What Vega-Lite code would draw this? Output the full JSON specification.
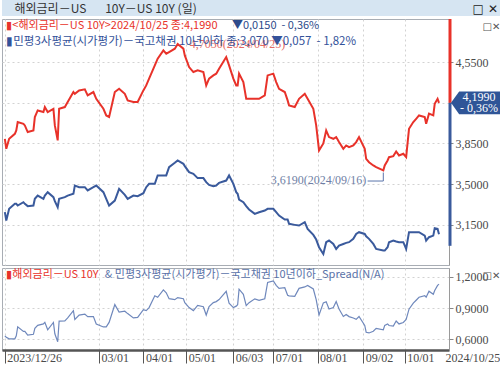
{
  "$schema": "https://vega.github.io/schema/vega-lite/v6.json",
  "padding": 0,
  "spacing": 1,
  "background": "white",
  "config": {
    "locale": {"number": {"decimal": ",", "thousands": ".", "grouping": [3], "currency": ["", ""]}},
    "view": {"stroke": "#a8adb4", "strokeWidth": 1},
    "axis": {"labelFont": "Liberation Sans Narrow", "labelFontSize": 12, "labelColor": "#4a4a4a", "gridColor": "#d2d2d2", "gridDash": [2, 3], "title": null}
  },
  "datasets": {
    "rates": [
      {"d": "2023-12-26", "us": 3.890, "ktb": 3.259, "sp": 0.631},
      {"d": "2023-12-27", "us": 3.804, "ktb": 3.187, "sp": 0.617},
      {"d": "2023-12-29", "us": 3.890, "ktb": 3.288, "sp": 0.602},
      {"d": "2024-01-02", "us": 3.933, "ktb": 3.331, "sp": 0.602},
      {"d": "2024-01-03", "us": 3.962, "ktb": 3.331, "sp": 0.631},
      {"d": "2024-01-04", "us": 4.034, "ktb": 3.316, "sp": 0.718},
      {"d": "2024-01-08", "us": 4.019, "ktb": 3.345, "sp": 0.674},
      {"d": "2024-01-09", "us": 4.005, "ktb": 3.331, "sp": 0.674},
      {"d": "2024-01-11", "us": 3.948, "ktb": 3.311, "sp": 0.637},
      {"d": "2024-01-15", "us": 3.962, "ktb": 3.316, "sp": 0.646},
      {"d": "2024-01-16", "us": 4.077, "ktb": 3.374, "sp": 0.703},
      {"d": "2024-01-18", "us": 4.134, "ktb": 3.402, "sp": 0.732},
      {"d": "2024-01-22", "us": 4.120, "ktb": 3.374, "sp": 0.746},
      {"d": "2024-01-23", "us": 4.163, "ktb": 3.402, "sp": 0.761},
      {"d": "2024-01-25", "us": 4.120, "ktb": 3.431, "sp": 0.689},
      {"d": "2024-01-29", "us": 4.148, "ktb": 3.388, "sp": 0.760},
      {"d": "2024-01-30", "us": 4.005, "ktb": 3.354, "sp": 0.651},
      {"d": "2024-02-01", "us": 3.876, "ktb": 3.302, "sp": 0.574},
      {"d": "2024-02-02", "us": 4.148, "ktb": 3.374, "sp": 0.774},
      {"d": "2024-02-06", "us": 4.163, "ktb": 3.388, "sp": 0.775},
      {"d": "2024-02-08", "us": 4.206, "ktb": 3.402, "sp": 0.804},
      {"d": "2024-02-12", "us": 4.292, "ktb": 3.417, "sp": 0.875},
      {"d": "2024-02-13", "us": 4.277, "ktb": 3.488, "sp": 0.789},
      {"d": "2024-02-16", "us": 4.306, "ktb": 3.474, "sp": 0.832},
      {"d": "2024-02-20", "us": 4.315, "ktb": 3.474, "sp": 0.841},
      {"d": "2024-02-22", "us": 4.263, "ktb": 3.446, "sp": 0.817},
      {"d": "2024-02-26", "us": 4.292, "ktb": 3.474, "sp": 0.818},
      {"d": "2024-02-28", "us": 4.234, "ktb": 3.488, "sp": 0.746},
      {"d": "2024-03-04", "us": 4.148, "ktb": 3.431, "sp": 0.717},
      {"d": "2024-03-06", "us": 4.091, "ktb": 3.374, "sp": 0.717},
      {"d": "2024-03-08", "us": 4.077, "ktb": 3.316, "sp": 0.761},
      {"d": "2024-03-12", "us": 4.292, "ktb": 3.359, "sp": 0.933},
      {"d": "2024-03-15", "us": 4.320, "ktb": 3.460, "sp": 0.860},
      {"d": "2024-03-19", "us": 4.277, "ktb": 3.408, "sp": 0.869},
      {"d": "2024-03-21", "us": 4.220, "ktb": 3.374, "sp": 0.846},
      {"d": "2024-03-25", "us": 4.206, "ktb": 3.402, "sp": 0.804},
      {"d": "2024-03-28", "us": 4.206, "ktb": 3.397, "sp": 0.809},
      {"d": "2024-04-01", "us": 4.306, "ktb": 3.422, "sp": 0.884},
      {"d": "2024-04-03", "us": 4.349, "ktb": 3.474, "sp": 0.875},
      {"d": "2024-04-05", "us": 4.407, "ktb": 3.503, "sp": 0.904},
      {"d": "2024-04-09", "us": 4.521, "ktb": 3.503, "sp": 1.018},
      {"d": "2024-04-11", "us": 4.579, "ktb": 3.575, "sp": 1.004},
      {"d": "2024-04-15", "us": 4.650, "ktb": 3.575, "sp": 1.075},
      {"d": "2024-04-17", "us": 4.622, "ktb": 3.575, "sp": 1.047},
      {"d": "2024-04-19", "us": 4.636, "ktb": 3.646, "sp": 0.990},
      {"d": "2024-04-23", "us": 4.665, "ktb": 3.684, "sp": 0.981},
      {"d": "2024-04-25", "us": 4.705, "ktb": 3.704, "sp": 1.001},
      {"d": "2024-04-29", "us": 4.665, "ktb": 3.675, "sp": 0.990},
      {"d": "2024-04-30", "us": 4.607, "ktb": 3.655, "sp": 0.952},
      {"d": "2024-05-03", "us": 4.507, "ktb": 3.603, "sp": 0.904},
      {"d": "2024-05-06", "us": 4.464, "ktb": 3.589, "sp": 0.875},
      {"d": "2024-05-09", "us": 4.478, "ktb": 3.552, "sp": 0.926},
      {"d": "2024-05-13", "us": 4.464, "ktb": 3.552, "sp": 0.912},
      {"d": "2024-05-15", "us": 4.349, "ktb": 3.517, "sp": 0.832},
      {"d": "2024-05-17", "us": 4.407, "ktb": 3.494, "sp": 0.913},
      {"d": "2024-05-20", "us": 4.435, "ktb": 3.483, "sp": 0.952},
      {"d": "2024-05-22", "us": 4.450, "ktb": 3.488, "sp": 0.962},
      {"d": "2024-05-24", "us": 4.493, "ktb": 3.511, "sp": 0.982},
      {"d": "2024-05-29", "us": 4.593, "ktb": 3.531, "sp": 1.062},
      {"d": "2024-05-31", "us": 4.521, "ktb": 3.575, "sp": 0.946},
      {"d": "2024-06-03", "us": 4.407, "ktb": 3.503, "sp": 0.904},
      {"d": "2024-06-05", "us": 4.349, "ktb": 3.431, "sp": 0.918},
      {"d": "2024-06-06", "us": 4.349, "ktb": 3.417, "sp": 0.932},
      {"d": "2024-06-07", "us": 4.450, "ktb": 3.368, "sp": 1.082},
      {"d": "2024-06-10", "us": 4.378, "ktb": 3.345, "sp": 1.033},
      {"d": "2024-06-12", "us": 4.234, "ktb": 3.311, "sp": 0.923},
      {"d": "2024-06-14", "us": 4.234, "ktb": 3.282, "sp": 0.952},
      {"d": "2024-06-18", "us": 4.234, "ktb": 3.245, "sp": 0.989},
      {"d": "2024-06-21", "us": 4.234, "ktb": 3.259, "sp": 0.975},
      {"d": "2024-06-25", "us": 4.263, "ktb": 3.273, "sp": 0.990},
      {"d": "2024-06-27", "us": 4.435, "ktb": 3.288, "sp": 1.147},
      {"d": "2024-07-01", "us": 4.450, "ktb": 3.288, "sp": 1.162},
      {"d": "2024-07-03", "us": 4.378, "ktb": 3.259, "sp": 1.119},
      {"d": "2024-07-05", "us": 4.320, "ktb": 3.230, "sp": 1.090},
      {"d": "2024-07-09", "us": 4.292, "ktb": 3.196, "sp": 1.096},
      {"d": "2024-07-11", "us": 4.220, "ktb": 3.196, "sp": 1.024},
      {"d": "2024-07-12", "us": 4.177, "ktb": 3.159, "sp": 1.018},
      {"d": "2024-07-16", "us": 4.163, "ktb": 3.150, "sp": 1.013},
      {"d": "2024-07-19", "us": 4.234, "ktb": 3.144, "sp": 1.090},
      {"d": "2024-07-23", "us": 4.277, "ktb": 3.173, "sp": 1.104},
      {"d": "2024-07-25", "us": 4.234, "ktb": 3.116, "sp": 1.118},
      {"d": "2024-07-29", "us": 4.148, "ktb": 3.064, "sp": 1.084},
      {"d": "2024-07-31", "us": 4.005, "ktb": 3.024, "sp": 0.981},
      {"d": "2024-08-02", "us": 3.790, "ktb": 2.958, "sp": 0.832},
      {"d": "2024-08-05", "us": 3.850, "ktb": 2.900, "sp": 0.950},
      {"d": "2024-08-07", "us": 3.962, "ktb": 3.001, "sp": 0.961},
      {"d": "2024-08-09", "us": 3.905, "ktb": 3.015, "sp": 0.890},
      {"d": "2024-08-12", "us": 3.890, "ktb": 2.986, "sp": 0.904},
      {"d": "2024-08-14", "us": 3.905, "ktb": 2.943, "sp": 0.962},
      {"d": "2024-08-16", "us": 3.862, "ktb": 2.972, "sp": 0.890},
      {"d": "2024-08-19", "us": 3.804, "ktb": 2.986, "sp": 0.818},
      {"d": "2024-08-21", "us": 3.833, "ktb": 2.995, "sp": 0.838},
      {"d": "2024-08-23", "us": 3.818, "ktb": 3.001, "sp": 0.817},
      {"d": "2024-08-26", "us": 3.833, "ktb": 3.030, "sp": 0.803},
      {"d": "2024-08-28", "us": 3.862, "ktb": 3.072, "sp": 0.790},
      {"d": "2024-08-30", "us": 3.905, "ktb": 3.087, "sp": 0.818},
      {"d": "2024-09-03", "us": 3.804, "ktb": 3.072, "sp": 0.732},
      {"d": "2024-09-04", "us": 3.718, "ktb": 3.052, "sp": 0.666},
      {"d": "2024-09-06", "us": 3.689, "ktb": 3.030, "sp": 0.659},
      {"d": "2024-09-09", "us": 3.661, "ktb": 2.986, "sp": 0.675},
      {"d": "2024-09-11", "us": 3.646, "ktb": 2.943, "sp": 0.703},
      {"d": "2024-09-16", "us": 3.619, "ktb": 2.929, "sp": 0.690},
      {"d": "2024-09-17", "us": 3.661, "ktb": 2.929, "sp": 0.732},
      {"d": "2024-09-19", "us": 3.704, "ktb": 2.958, "sp": 0.746},
      {"d": "2024-09-20", "us": 3.732, "ktb": 3.001, "sp": 0.731},
      {"d": "2024-09-23", "us": 3.741, "ktb": 3.015, "sp": 0.726},
      {"d": "2024-09-25", "us": 3.781, "ktb": 3.007, "sp": 0.774},
      {"d": "2024-09-27", "us": 3.747, "ktb": 3.001, "sp": 0.746},
      {"d": "2024-09-30", "us": 3.761, "ktb": 3.001, "sp": 0.760},
      {"d": "2024-10-02", "us": 3.732, "ktb": 2.943, "sp": 0.789},
      {"d": "2024-10-04", "us": 3.976, "ktb": 3.087, "sp": 0.889},
      {"d": "2024-10-07", "us": 4.034, "ktb": 3.087, "sp": 0.947},
      {"d": "2024-10-09", "us": 4.062, "ktb": 3.087, "sp": 0.975},
      {"d": "2024-10-11", "us": 4.091, "ktb": 3.087, "sp": 1.004},
      {"d": "2024-10-15", "us": 4.077, "ktb": 3.058, "sp": 1.019},
      {"d": "2024-10-16", "us": 4.019, "ktb": 3.015, "sp": 1.004},
      {"d": "2024-10-18", "us": 4.106, "ktb": 3.044, "sp": 1.062},
      {"d": "2024-10-21", "us": 4.091, "ktb": 3.058, "sp": 1.033},
      {"d": "2024-10-22", "us": 4.191, "ktb": 3.121, "sp": 1.070},
      {"d": "2024-10-24", "us": 4.234, "ktb": 3.115, "sp": 1.119},
      {"d": "2024-10-25", "us": 4.199, "ktb": 3.070, "sp": 1.129}
    ]
  },
  "vconcat": [
    {
      "width": 500,
      "height": 16,
      "view": {"stroke": null},
      "data": {"values": [{"k": 1}]},
      "mark": {"type": "rect", "color": "#d6e5f2"},
      "encoding": {
        "x": {"datum": 0, "type": "quantitative", "scale": {"domain": [0, 1], "nice": false},
          "axis": {"orient": "bottom", "zindex": 2, "labels": false, "ticks": false, "domain": false, "grid": false,
            "title": "□ ✕", "titleX": 470, "titleY": -8, "titleAlign": "left", "titleBaseline": "middle", "titleAngle": 0,
            "titleFont": "DejaVu Sans", "titleFontSize": 12, "titleFontWeight": "bold", "titleColor": "#222222"}},
        "x2": {"datum": 1},
        "y": {"datum": 0, "type": "quantitative", "scale": {"domain": [0, 1], "nice": false},
          "axis": {"orient": "left", "zindex": 2, "labels": false, "ticks": false, "domain": false, "grid": false,
            "title": "해외금리－US\u00a0\u00a0\u00a0\u00a0\u00a0\u00a0\u00a010Y－US 10Y (일)",
            "titleX": 12, "titleY": 8, "titleAlign": "left", "titleBaseline": "middle", "titleAngle": 0,
            "titleFont": "Liberation Sans Narrow, Noto Sans CJK KR", "titleFontSize": 12, "titleFontWeight": "normal", "titleColor": "#333333"}},
        "y2": {"datum": 1}
      }
    },
    {
      "width": 447,
      "height": 246,
      "layer": [
        {
          "data": {"name": "rates"},
          "mark": {"type": "line", "color": "#e8322a", "strokeWidth": 2},
          "encoding": {
            "x": {"field": "d", "type": "temporal",
              "scale": {"type": "utc", "domain": [{"year": 2023, "month": 12, "date": 24, "utc": true}, {"year": 2024, "month": 11, "date": 1, "utc": true}]},
              "axis": {"title": null, "labels": false, "ticks": false, "domain": false, "grid": true,
                "values": [{"year": 2023, "month": 12, "date": 26, "utc": true}, {"year": 2024, "month": 3, "date": 1, "utc": true}, {"year": 2024, "month": 4, "date": 1, "utc": true}, {"year": 2024, "month": 5, "date": 1, "utc": true}, {"year": 2024, "month": 6, "date": 3, "utc": true}, {"year": 2024, "month": 7, "date": 1, "utc": true}, {"year": 2024, "month": 8, "date": 1, "utc": true}, {"year": 2024, "month": 9, "date": 2, "utc": true}, {"year": 2024, "month": 10, "date": 1, "utc": true}]}},
            "y": {"field": "us", "type": "quantitative",
              "scale": {"domain": [2.805, 4.92], "nice": false, "zero": false},
              "axis": {"orient": "right", "values": [3.15, 3.5, 3.85, 4.2, 4.55], "format": ".4f",
                "labelExpr": "datum.value == 4.2 ? '' : datum.label",
                "grid": true, "domainColor": "#9a9a9a", "tickColor": "#888888", "tickSize": 4, "labelPadding": 2,
                "title": "□✕", "titleX": 33, "titleY": 7, "titleAngle": 0, "titleAlign": "left", "titleBaseline": "middle",
                "titleFont": "DejaVu Sans", "titleFontSize": 10, "titleFontWeight": "normal", "titleColor": "#555555"}}
          }
        },
        {
          "data": {"name": "rates"},
          "mark": {"type": "line", "color": "#3a5a9c", "strokeWidth": 2},
          "encoding": {
            "x": {"field": "d", "type": "temporal"},
            "y": {"field": "ktb", "type": "quantitative"}
          }
        },
        {
          "data": {"values": [{"d": "2024-04-25", "v": 4.705, "t": "4,7050(2024/04/25)"}]},
          "mark": {"type": "text", "align": "left", "baseline": "middle", "dx": 12, "color": "#e56a62", "fontSize": 12, "font": "Liberation Sans Narrow"},
          "encoding": {
            "x": {"field": "d", "type": "temporal"},
            "y": {"field": "v", "type": "quantitative"},
            "text": {"field": "t"}
          }
        },
        {
          "data": {"values": [{"d": "2024-09-16", "v": 3.619, "t": "3,6190(2024/09/16)"}]},
          "mark": {"type": "text", "align": "right", "baseline": "middle", "dx": -17, "dy": 10, "color": "#6f7fa6", "fontSize": 12, "font": "Liberation Sans Narrow"},
          "encoding": {
            "x": {"field": "d", "type": "temporal"},
            "y": {"field": "v", "type": "quantitative"},
            "text": {"field": "t"}
          }
        },
        {
          "data": {"values": [{}]},
          "mark": {"type": "rule", "color": "#5a74aa", "strokeWidth": 1},
          "encoding": {
            "x": {"datum": {"year": 2024, "month": 9, "date": 5, "utc": true}, "type": "temporal"},
            "x2": {"datum": {"year": 2024, "month": 9, "date": 16, "utc": true}},
            "y": {"datum": 3.527, "type": "quantitative"}
          }
        },
        {
          "data": {"values": [{}]},
          "mark": {"type": "rule", "color": "#5a74aa", "strokeWidth": 1},
          "encoding": {
            "x": {"datum": {"year": 2024, "month": 9, "date": 16, "utc": true}, "type": "temporal"},
            "y": {"datum": 3.527, "type": "quantitative"},
            "y2": {"datum": 3.6}
          }
        },
        {
          "data": {"values": [{}]},
          "mark": {"type": "text", "align": "left", "baseline": "middle", "color": "#e8322a", "fontSize": 11, "font": "Liberation Sans Narrow, Noto Sans CJK KR"},
          "encoding": {
            "x": {"datum": {"year": 2023, "month": 12, "date": 27, "utc": true}, "type": "temporal"},
            "y": {"datum": 4.86, "type": "quantitative"},
            "text": {"value": "▮<해외금리－US 10Y>2024/10/25 종:4,1990"}
          }
        },
        {
          "data": {"values": [{}]},
          "mark": {"type": "text", "align": "left", "baseline": "middle", "color": "#2e4a8a", "fontSize": 11, "font": "Liberation Sans Narrow, Noto Sans CJK KR"},
          "encoding": {
            "x": {"datum": {"year": 2024, "month": 6, "date": 2, "utc": true}, "type": "temporal"},
            "y": {"datum": 4.86, "type": "quantitative"},
            "text": {"value": "▼0,0150\u00a0\u00a0- 0,36%"}
          }
        },
        {
          "data": {"values": [{}]},
          "mark": {"type": "text", "align": "left", "baseline": "middle", "color": "#34529a", "fontSize": 11.5, "font": "Liberation Sans Narrow, Noto Sans CJK KR"},
          "encoding": {
            "x": {"datum": {"year": 2023, "month": 12, "date": 27, "utc": true}, "type": "temporal"},
            "y": {"datum": 4.722, "type": "quantitative"},
            "text": {"value": "▮민평3사평균(시가평가)－국고채권 10년이하 종:3,070 ▼0,057\u00a0\u00a0- 1,82%"}
          }
        },
        {
          "data": {"values": [{}]},
          "mark": {"type": "rule", "color": "#e8322a", "strokeWidth": 3, "xOffset": 1},
          "encoding": {
            "x": {"datum": {"year": 2024, "month": 11, "date": 1, "utc": true}, "type": "temporal"},
            "y": {"datum": 4.199, "type": "quantitative"},
            "y2": {"datum": 4.92}
          }
        },
        {
          "data": {"values": [{}]},
          "mark": {"type": "rule", "color": "#3a5a9c", "strokeWidth": 3, "xOffset": 1},
          "encoding": {
            "x": {"datum": {"year": 2024, "month": 11, "date": 1, "utc": true}, "type": "temporal"},
            "y": {"datum": 2.97, "type": "quantitative"},
            "y2": {"datum": 4.199}
          }
        },
        {
          "data": {"values": [{}]},
          "mark": {"type": "point", "shape": "M0,0L0.32,-0.45L2,-0.45L2,0.45L0.32,0.45Z", "size": 2601, "filled": true, "opacity": 1, "color": "#2f5597", "strokeWidth": 0, "xOffset": 2},
          "encoding": {
            "x": {"datum": {"year": 2024, "month": 11, "date": 1, "utc": true}, "type": "temporal"},
            "y": {"datum": 4.199, "type": "quantitative"}
          }
        },
        {
          "data": {"values": [{}]},
          "mark": {"type": "text", "align": "center", "baseline": "middle", "dx": 30, "dy": -5.5, "color": "white", "fontSize": 12, "lineHeight": 11, "font": "Liberation Sans Narrow"},
          "encoding": {
            "x": {"datum": {"year": 2024, "month": 11, "date": 1, "utc": true}, "type": "temporal"},
            "y": {"datum": 4.199, "type": "quantitative"},
            "text": {"value": ["4,1990", "- 0,36%"]}
          }
        }
      ]
    },
    {
      "width": 447,
      "height": 82,
      "layer": [
        {
          "data": {"name": "rates"},
          "mark": {"type": "line", "color": "#6f88bc", "strokeWidth": 1.2},
          "encoding": {
            "x": {"field": "d", "type": "temporal",
              "scale": {"type": "utc", "domain": [{"year": 2023, "month": 12, "date": 24, "utc": true}, {"year": 2024, "month": 11, "date": 1, "utc": true}]},
              "axis": {"title": null, "grid": true, "labelOverlap": false, "labelFlush": false,
                "values": [{"year": 2023, "month": 12, "date": 26, "utc": true}, {"year": 2024, "month": 3, "date": 1, "utc": true}, {"year": 2024, "month": 4, "date": 1, "utc": true}, {"year": 2024, "month": 5, "date": 1, "utc": true}, {"year": 2024, "month": 6, "date": 3, "utc": true}, {"year": 2024, "month": 7, "date": 1, "utc": true}, {"year": 2024, "month": 8, "date": 1, "utc": true}, {"year": 2024, "month": 9, "date": 2, "utc": true}, {"year": 2024, "month": 10, "date": 1, "utc": true}, {"year": 2024, "month": 10, "date": 25, "utc": true}],
                "labelExpr": "(datum.value < utc(2024,0,1) || datum.value > utc(2024,9,20)) ? utcFormat(datum.value, '%Y/%m/%d') : utcFormat(datum.value, '%m/%d')",
                "labelAlign": "left", "labelBaseline": "top", "tickSize": 13, "labelPadding": -11,
                "labelOffset": {"condition": {"test": "datum.value > utc(2024,9,20)", "value": 6}, "value": 2},
                "tickOpacity": {"condition": {"test": "datum.value > utc(2024,9,20)", "value": 0}, "value": 1},
                "gridOpacity": {"condition": {"test": "datum.value > utc(2024,9,20)", "value": 0}, "value": 1},
                "tickColor": "#555555", "domainColor": "#555555", "domainWidth": 2.5}},
            "y": {"field": "sp", "type": "quantitative",
              "scale": {"domain": [0.494, 1.287], "nice": false, "zero": false},
              "axis": {"orient": "right", "values": [0.6, 0.9, 1.2], "format": ".4f", "grid": true,
                "domainColor": "#9a9a9a", "tickColor": "#888888", "tickSize": 4, "labelPadding": 2,
                "title": "□✕", "titleX": 33, "titleY": 7, "titleAngle": 0, "titleAlign": "left", "titleBaseline": "middle",
                "titleFont": "DejaVu Sans", "titleFontSize": 10, "titleFontWeight": "normal", "titleColor": "#555555"}}
          }
        },
        {
          "data": {"values": [{}]},
          "mark": {"type": "text", "align": "left", "baseline": "middle", "color": "#e8322a", "fontSize": 11, "font": "Liberation Sans Narrow, Noto Sans CJK KR"},
          "encoding": {
            "x": {"datum": {"year": 2023, "month": 12, "date": 27, "utc": true}, "type": "temporal"},
            "y": {"datum": 1.219, "type": "quantitative"},
            "text": {"value": "▮해외금리－US 10Y"}
          }
        },
        {
          "data": {"values": [{}]},
          "mark": {"type": "text", "align": "left", "baseline": "middle", "color": "#5a72a8", "fontSize": 11, "font": "Liberation Sans Narrow, Noto Sans CJK KR"},
          "encoding": {
            "x": {"datum": {"year": 2024, "month": 3, "date": 5, "utc": true}, "type": "temporal"},
            "y": {"datum": 1.219, "type": "quantitative"},
            "text": {"value": "& 민평3사평균(시가평가)－국고채권 10년이하_Spread(N/A)"}
          }
        }
      ]
    }
  ]
}
